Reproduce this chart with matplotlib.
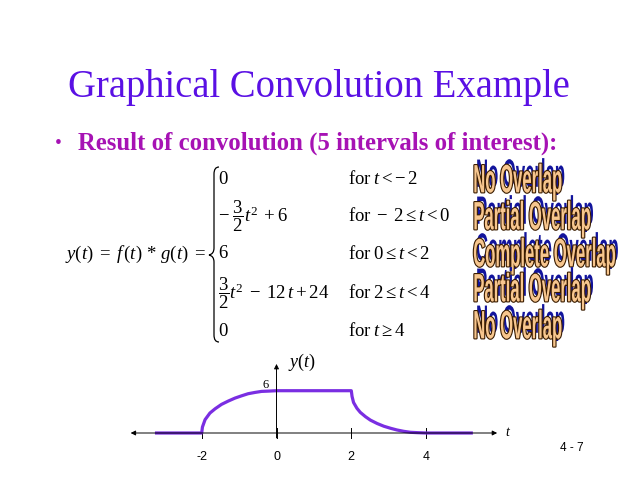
import numpy as np
import matplotlib
matplotlib.use("Agg")
import matplotlib.pyplot as plt
from matplotlib import patheffects
from matplotlib.path import Path
from matplotlib.patches import PathPatch
from matplotlib.transforms import Affine2D

plt.rcParams['font.family'] = ['Liberation Serif', 'DejaVu Serif']
plt.rcParams['mathtext.fontset'] = 'custom'
plt.rcParams['mathtext.rm'] = 'Liberation Serif'
plt.rcParams['mathtext.it'] = 'Liberation Serif:italic'
plt.rcParams['mathtext.bf'] = 'Liberation Serif:bold'

# ---- slide content ----
title = "Graphical Convolution Example"
bullet = "Result of convolution (5 intervals of interest):"
lhs = r'$y(t)\;=\;f\,(t)\,*\,g(t)\;=$'
pieces = [r'$0$',
          r'$-\;\dfrac{3}{2}t^{2}\;+6$',
          r'$6$',
          r'$\dfrac{3}{2}t^{2}\;-\;12\,t+24$',
          r'$0$']
conditions = [r'$\mathrm{for}\;t<-\,2$',
              r'$\mathrm{for}\;-\;2\leq t<0$',
              r'$\mathrm{for}\;0\leq t<2$',
              r'$\mathrm{for}\;2\leq t<4$',
              r'$\mathrm{for}\;t\geq 4$']
overlap_labels = ["No Overlap", "Partial Overlap", "Complete Overlap",
                  "Partial Overlap", "No Overlap"]
page_no = "4 - 7"

# ---- y(t) ----
curve_t = [-3.25, -2.0, -1.98, -1.91, -1.78, -1.64, -1.47, -1.29, -1.11, -0.93, -0.76,
           -0.58, -0.40, -0.22, 0.0, 2.0, 2.02, 2.06, 2.15, 2.24, 2.38, 2.51, 2.69,
           2.87, 3.05, 3.22, 3.40, 3.58, 3.76, 4.0, 5.25]
curve_y = [0, 0, 0.85, 1.89, 2.83, 3.44, 4.06, 4.53, 4.95, 5.28, 5.57,
           5.75, 5.90, 5.94, 6.0, 6.0, 5.19, 4.33, 3.51, 2.93, 2.31, 1.83, 1.35,
           0.96, 0.67, 0.43, 0.24, 0.10, 0.05, 0, 0]
t_ticks = [-2, 0, 2, 4]
y_mark = 6

TITLE_C = '#5a10e4'
BULLET_C = '#a612b4'
CURVE_C = '#7a2ee2'

W, H = 638, 478
fig = plt.figure(figsize=(W / 100, H / 100), dpi=100)
bg = fig.add_axes([0, 0, 1, 1])
bg.set_xlim(0, W)
bg.set_ylim(H, 0)
bg.axis('off')

bg.text(318.5, 97, title, ha='center', va='baseline', fontsize=27.8, color=TITLE_C)
bg.text(58, 148, u'\u2022', ha='center', va='baseline', fontsize=14, color=BULLET_C)
bg.text(78, 150, bullet, ha='left', va='baseline', fontsize=17.8, fontweight='bold',
        color=BULLET_C)

# piecewise equation
row_y = [179, 216, 254, 293, 331]
bg.text(65, row_y[2], lhs, ha='left', va='center', fontsize=13.5)
for y, p, c in zip(row_y, pieces, conditions):
    bg.text(218, y, p, ha='left', va='center', fontsize=13.5)
    bg.text(348, y, c, ha='left', va='center', fontsize=13.5)

brace = Path([(219, 167), (214, 167), (214, 174), (214, 248), (214, 254), (209, 255),
              (214, 256), (214, 262), (214, 335), (214, 342), (219, 342)],
             [Path.MOVETO, Path.CURVE3, Path.CURVE3, Path.LINETO, Path.CURVE3, Path.CURVE3,
              Path.CURVE3, Path.CURVE3, Path.LINETO, Path.CURVE3, Path.CURVE3])
bg.add_patch(PathPatch(brace, fill=False, lw=0.9, color='black'))


# word-art labels: squeezed / stretched text with outline and blue shadow
class Stretch(patheffects.AbstractPathEffect):
    def __init__(self, effect, sx=1.0, sy=1.0):
        super().__init__()
        self.effect, self.sx, self.sy = effect, sx, sy

    def draw_path(self, renderer, gc, tpath, affine, rgbFace=None):
        bb = tpath.get_extents(affine)
        cx, cy = bb.x0, (bb.y0 + bb.y1) / 2
        aff = affine + Affine2D().translate(-cx, -cy).scale(self.sx, self.sy).translate(cx, cy)
        self.effect.draw_path(renderer, gc, tpath, aff, rgbFace)


art_fx = [Stretch(patheffects.SimplePatchShadow(offset=(2.0, 4.0), shadow_rgbFace='#12149c',
                                                alpha=1.0), 0.8, 1.9),
          Stretch(patheffects.Stroke(linewidth=1.6, foreground='#3a1c00'), 0.8, 1.9),
          Stretch(patheffects.Normal(), 0.8, 1.9)]
art_y = [182, 219, 256, 291, 328]
for y, lab in zip(art_y, overlap_labels):
    bg.text(473, y, lab, ha='left', va='center', fontsize=15, fontweight='bold',
            family=['Liberation Sans Narrow', 'Liberation Sans'], color='#f7c68e',
            path_effects=art_fx)

bg.text(572, 448, page_no, ha='center', va='center', fontsize=8.5,
        family=['Liberation Sans', 'DejaVu Sans'])

# ---- plot of y(t) ----
x0_px, y0_px, sx_px, sy_px = 276.5, 433, 37.4, 7.05
xlim = (-4.2, 6.4)
ylim = (-4.5, 11)
left = x0_px + xlim[0] * sx_px
right = x0_px + xlim[1] * sx_px
bottom = y0_px - ylim[0] * sy_px
top = y0_px - ylim[1] * sy_px
ax = fig.add_axes([left / W, 1 - bottom / H, (right - left) / W, (bottom - top) / H])
ax.set_xlim(*xlim)
ax.set_ylim(*ylim)
ax.axis('off')
ax.patch.set_alpha(0)

ax.plot(curve_t, curve_y, color=CURVE_C, lw=2.3, solid_joinstyle='round',
        solid_capstyle='butt', zorder=3)

ax.annotate('', xy=(-3.9, 0), xytext=(5.9, 0),
            arrowprops=dict(arrowstyle='<|-|>', color='black', lw=0.7,
                            mutation_scale=7, shrinkA=0, shrinkB=0))
ax.annotate('', xy=(0, 9.8), xytext=(0, -0.7),
            arrowprops=dict(arrowstyle='-|>', color='black', lw=0.7,
                            mutation_scale=7, shrinkA=0, shrinkB=0))
for t in t_ticks:
    ax.plot([t, t], [-0.7, 0.7], color='black', lw=0.7)
    ax.text(t, -3.4, str(t), ha='center', va='center', fontsize=9,
            family=['Liberation Sans', 'DejaVu Sans'])
ax.text(-0.3, y_mark + 0.8, str(y_mark), ha='center', va='center', fontsize=9)
ax.text(0.3, 10, r'$y(t)$', ha='left', va='center', fontsize=13)
ax.text(6.2, 0, r'$t$', ha='center', va='center', fontsize=10)

fig.savefig('out.png', dpi=100)
